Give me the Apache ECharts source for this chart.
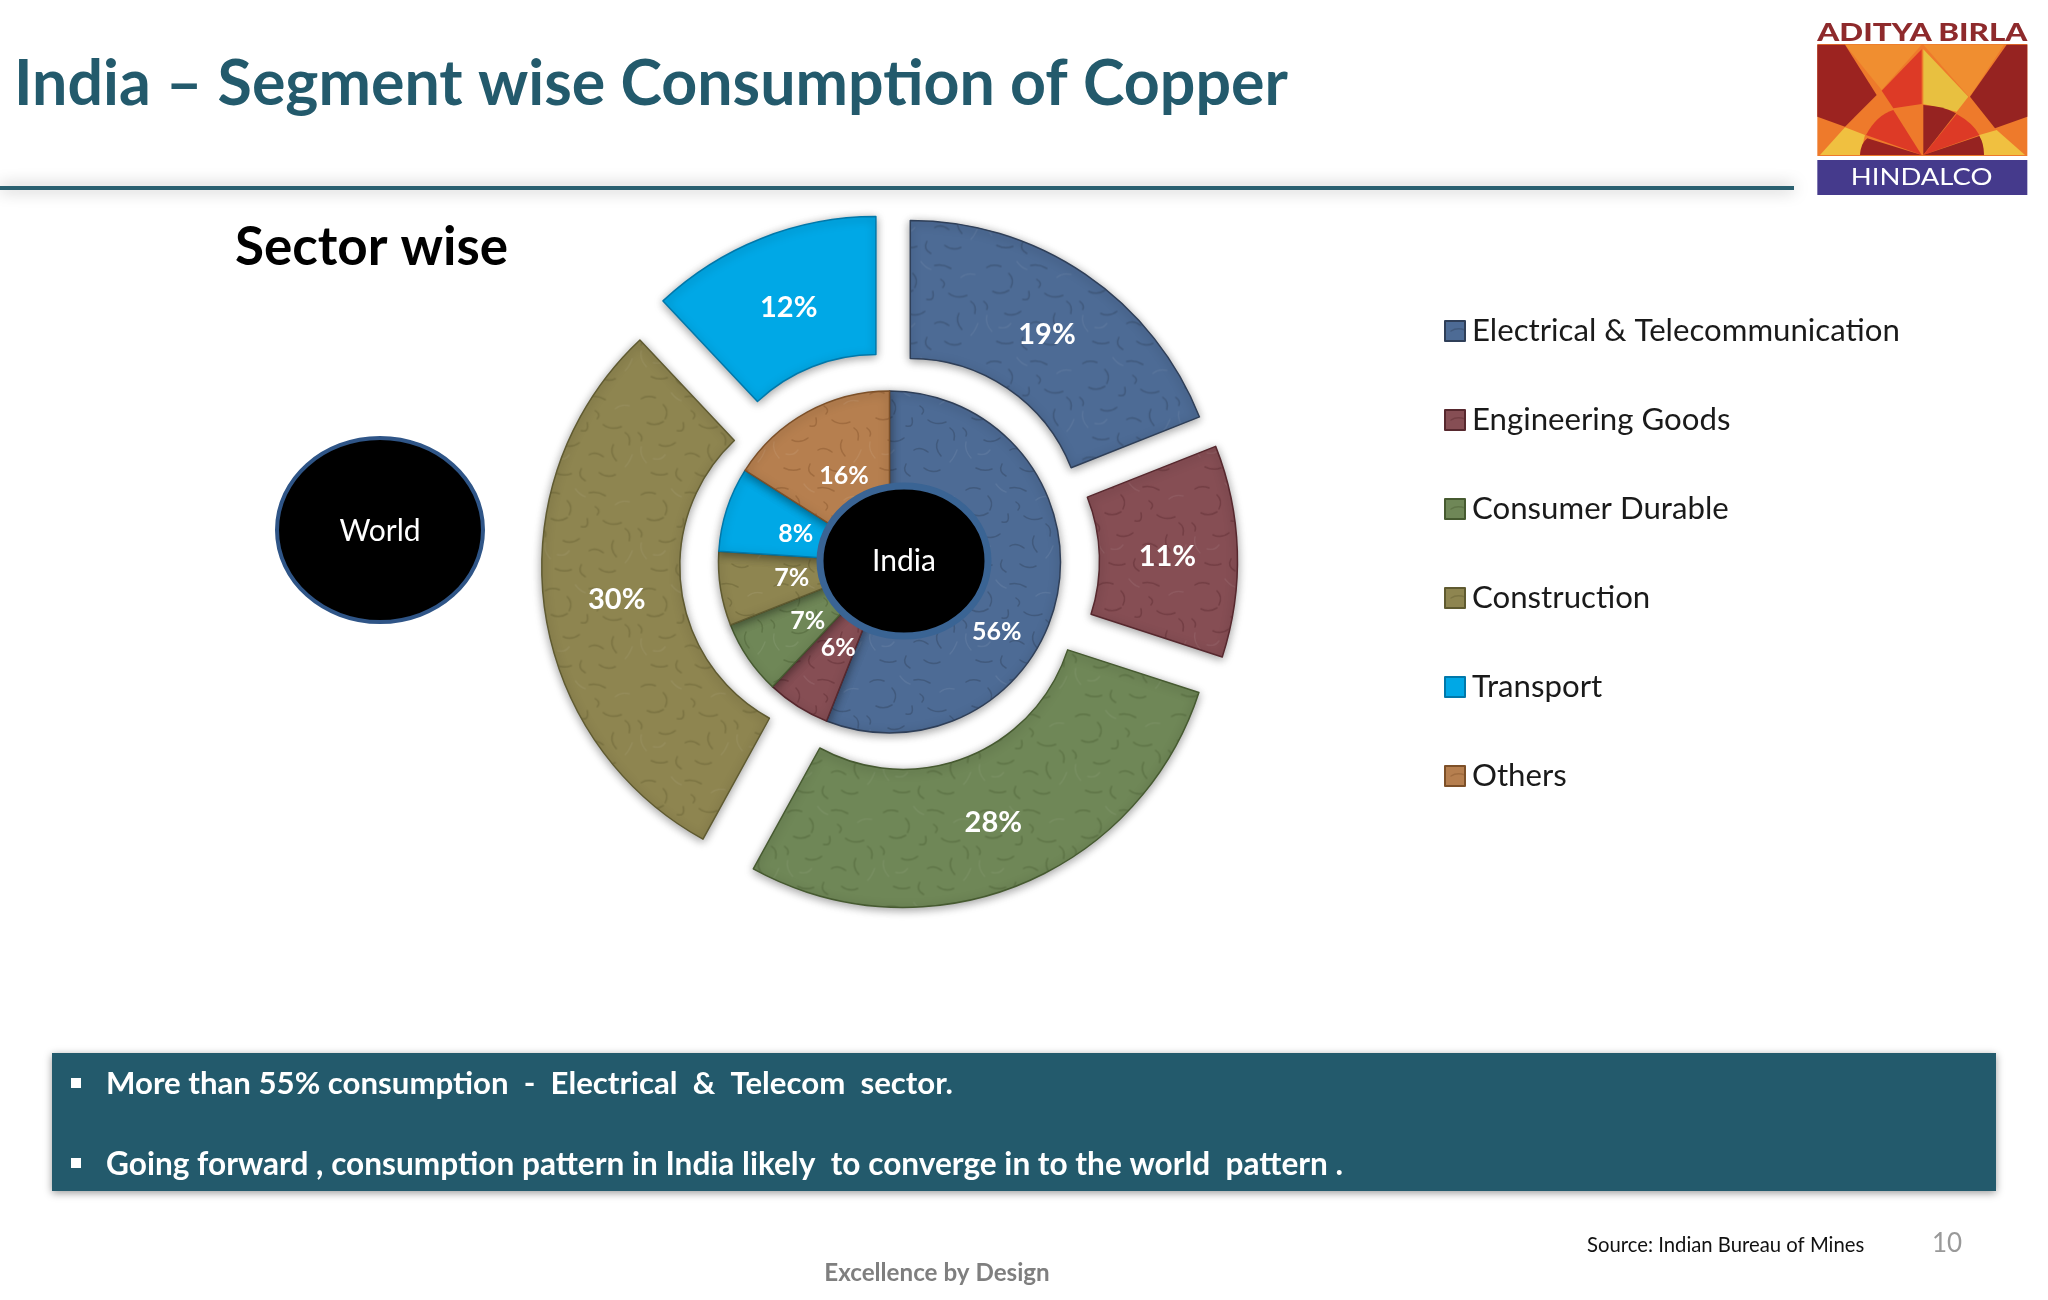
<!DOCTYPE html>
<html>
<head>
<meta charset="utf-8">
<title>India – Segment wise Consumption of Copper</title>
<script src="https://cdn.jsdelivr.net/npm/echarts@6/dist/echarts.min.js"></script>
<style>
  html, body { margin: 0; background: #fff; }
  #chart { position: absolute; left: 0; top: 0; width: 2048px; height: 1300px; }
  #logo { position: absolute; left: 1780px; top: 0; width: 268px; height: 220px; }
</style>
</head>
<body>
<div id="chart"></div>
<!-- company logo, drawn by hand, not part of the chart -->
<svg id="logo" viewBox="0 0 804 660">
  <text x="427" y="122" text-anchor="middle" textLength="630" lengthAdjust="spacingAndGlyphs" font-family="Lato" font-weight="900" font-size="76" fill="#8e2a2c">ADITYA BIRLA</text>
  <rect x="112" y="132" width="630" height="336" fill="#ee7a2b"/>
  <polygon points="195,134 425,134 305,270" fill="#f08e30"/>
  <polygon points="430,134 672,134 568,292" fill="#f08e30"/>
  <polygon points="112,134 195,134 290,285 195,380 112,350" fill="#9c2320"/>
  <polygon points="680,134 742,134 742,350 645,385 570,290" fill="#962321"/>
  <polygon points="425,148 425,312 340,325 305,272" fill="#dd3a26"/>
  <polygon points="430,148 565,290 530,335 430,312" fill="#e8c040"/>
  <polygon points="120,465 195,382 255,405 240,465" fill="#f0c040"/>
  <polygon points="735,465 650,390 598,405 612,465" fill="#f0c040"/>
  <path d="M258,405 Q290,345 340,330 L425,465 Z" fill="#dd3a26"/>
  <path d="M240,465 Q242,430 262,415 L425,465 Z" fill="#9c2320"/>
  <path d="M430,315 Q490,318 528,340 L430,465 Z" fill="#962321"/>
  <path d="M530,342 Q580,370 598,405 L430,465 Z" fill="#dd3a26"/>
  <path d="M612,465 Q612,430 598,408 L430,465 Z" fill="#962321"/>
  <rect x="112" y="480" width="630" height="105" fill="#453a8c"/>
  <text x="425" y="555" text-anchor="middle" textLength="425" lengthAdjust="spacingAndGlyphs" font-family="Lato" font-size="68" fill="#fff">HINDALCO</text>
</svg>
<script>
// legend entries, in reference order
const categories = ['Electrical & Telecommunication', 'Engineering Goods', 'Consumer Durable', 'Construction', 'Transport', 'Others'];

// inner ring: India, outer exploded ring: World
const indiaValues = [56, 6, 7, 7, 8, 16];
const worldValues = [19, 11, 28, 30, 12];

const baseColors = ['#4d6b95', '#864e54', '#6f8757', '#8e8550', '#00a8e6', '#b67f4f'];
const edgeColors = ['#2f3f58', '#57282e', '#465a30', '#5f5a30', '#0078aa', '#7d5028'];

// labels were nudged by hand in the slide, px from the ring middle
const indiaLabelOffsets = [[4, 50], [5, -3], [5, 0], [6, 0], [6, 4], [5, 6]];
const worldLabelOffsets = [[-1, 6], [-4, 3], [0, -2], [7, 2], [3, 8]];

// fixed scratches for the stone texture of the slices
const scratches = [
  [6, 10, 12, 6, 20, 9], [28, 16, 34, 22, 30, 30], [50, 8, 58, 6, 66, 11], [76, 20, 82, 15, 90, 17],
  [12, 34, 20, 38, 28, 33], [42, 42, 50, 44, 48, 34], [64, 36, 72, 42, 82, 38], [6, 58, 4, 66, 11, 74],
  [24, 56, 32, 60, 40, 54], [50, 66, 56, 62, 64, 68], [74, 56, 70, 64, 77, 72], [86, 78, 90, 74, 93, 66],
  [16, 84, 24, 88, 32, 85], [42, 80, 38, 88, 46, 92], [60, 84, 68, 90, 76, 86], [36, 4, 40, 10, 46, 12],
  [3, 44, 8, 48, 6, 52], [86, 44, 92, 48, 90, 56], [56, 22, 62, 26, 58, 30], [18, 70, 26, 72, 30, 66]
];

function stoneTexture(base, edge) {
  const tile = document.createElement('canvas');
  tile.width = tile.height = 96;
  const ctx = tile.getContext('2d');
  ctx.fillStyle = base;
  ctx.fillRect(0, 0, 96, 96);
  ctx.lineWidth = 1.5;
  ctx.lineCap = 'round';
  scratches.forEach((s, i) => {
    ctx.strokeStyle = i % 4 === 3 ? 'rgba(255,255,255,0.07)' : edge;
    ctx.globalAlpha = i % 4 === 3 ? 1 : 0.38;
    ctx.beginPath();
    ctx.moveTo(s[0], s[1]);
    ctx.quadraticCurveTo(s[2], s[3], s[4], s[5]);
    ctx.stroke();
  });
  return { image: tile, repeat: 'repeat' };
}

function sliceData(values, offsets, exploded) {
  return values.map((value, i) => ({
    name: categories[i],
    value: value,
    selected: exploded,
    label: { offset: offsets[i] },
    // the selected state drops the normal label offset otherwise
    select: { label: { offset: offsets[i] } },
    itemStyle: {
      // transport has a plain glossy fill in the reference
      color: i === 4 ? baseColors[i] : stoneTexture(baseColors[i], edgeColors[i]),
      borderColor: edgeColors[i],
      borderWidth: 1.5,
      shadowBlur: 10,
      shadowOffsetY: 2,
      shadowColor: 'rgba(0,0,0,0.38)'
    }
  }));
}

const font = 'Lato, "Open Sans", sans-serif';
const pieCenter = [889.5, 562];
const slideBlue = '#235a6c';

const chart = echarts.init(document.getElementById('chart'));
chart.setOption({
  animation: false,
  title: [
    {
      text: 'India – Segment wise Consumption of Copper',
      left: 9, top: 48,
      textStyle: { fontFamily: font, fontWeight: 'bold', fontSize: 62.7, color: slideBlue }
    },
    {
      text: 'Sector wise',
      left: 230, top: 216,
      textStyle: { fontFamily: font, fontWeight: 'bold', fontSize: 53, color: '#000' }
    }
  ],
  legend: {
    orient: 'vertical',
    left: 1439, top: 307,
    itemWidth: 20, itemHeight: 20,
    itemGap: 51,
    icon: 'rect',
    selectedMode: false,
    data: categories,
    textStyle: { fontFamily: font, fontSize: 31.2, color: '#1a1a1a', padding: [0, 0, 0, 2], lineHeight: 38 }
  },
  series: [
    {
      name: 'India',
      type: 'pie',
      center: pieCenter,
      radius: [33, 171],
      z: 2,
      startAngle: 90,
      clockwise: true,
      silent: true,
      data: sliceData(indiaValues, indiaLabelOffsets, false),
      label: {
        position: 'inside',
        formatter: '{c}%',
        fontFamily: font, fontWeight: 'bold', fontSize: 25, color: '#fff'
      },
      labelLine: { show: false }
    },
    {
      name: 'World',
      type: 'pie',
      center: pieCenter,
      radius: [173, 311],
      startAngle: 90,
      clockwise: true,
      silent: true,
      selectedMode: 'multiple',
      selectedOffset: 37,
      data: sliceData(worldValues, worldLabelOffsets, true),
      label: {
        position: 'inside',
        formatter: '{c}%',
        fontFamily: font, fontWeight: 'bold', fontSize: 29, color: '#fff'
      },
      labelLine: { show: false }
    }
  ],
  graphic: [
    // header rule
    { type: 'rect', z: 3, shape: { x: 0, y: 186, width: 1794, height: 4 },
      style: { fill: '#2a6070', shadowBlur: 16, shadowOffsetY: 0, shadowColor: 'rgba(0,0,0,0.4)' } },
    // ring centre bubbles
    { type: 'ellipse', z: 3, shape: { cx: 380, cy: 530, rx: 103, ry: 92 },
      style: { fill: '#000', stroke: '#2f5587', lineWidth: 4 } },
    { type: 'text', z: 4, style: { x: 380, y: 531, text: 'World', align: 'center', verticalAlign: 'middle', fill: '#fff', font: '30px ' + font } },
    { type: 'ellipse', z: 3, shape: { cx: 904, cy: 561, rx: 84, ry: 75 },
      style: { fill: '#000', stroke: '#3a6494', lineWidth: 7 } },
    { type: 'text', z: 4, style: { x: 904, y: 561, text: 'India', align: 'center', verticalAlign: 'middle', fill: '#fff', font: '30px ' + font } },
    // takeaway banner
    { type: 'rect', z: 3, shape: { x: 52, y: 1053, width: 1944, height: 138 },
      style: { fill: slideBlue, shadowBlur: 8, shadowOffsetY: 2, shadowColor: 'rgba(0,0,0,0.4)' } },
    { type: 'rect', z: 4, shape: { x: 71, y: 1078, width: 10, height: 10 }, style: { fill: '#fff' } },
    { type: 'rect', z: 4, shape: { x: 71, y: 1158, width: 10, height: 10 }, style: { fill: '#fff' } },
    { type: 'text', z: 4, style: { x: 106, y: 1084, text: 'More than 55% consumption  -  Electrical  &  Telecom  sector.', verticalAlign: 'middle', fill: '#fff', font: 'bold 31.2px ' + font } },
    { type: 'text', z: 4, style: { x: 106, y: 1165, text: 'Going forward , consumption pattern in India likely  to converge in to the world  pattern .', verticalAlign: 'middle', fill: '#fff', font: 'bold 31.6px ' + font } },
    // footer
    { type: 'text', z: 4, style: { x: 1587, y: 1245, text: 'Source: Indian Bureau of Mines', verticalAlign: 'middle', fill: '#111', font: '20.3px ' + font } },
    { type: 'text', z: 4, style: { x: 1947, y: 1244, text: '10', align: 'center', verticalAlign: 'middle', fill: '#999', font: '26px ' + font } },
    { type: 'text', z: 4, style: { x: 937, y: 1273, text: 'Excellence by Design', align: 'center', verticalAlign: 'middle', fill: '#7f7f7f', font: 'bold 24.2px ' + font } }
  ]
});
</script>
</body>
</html>
